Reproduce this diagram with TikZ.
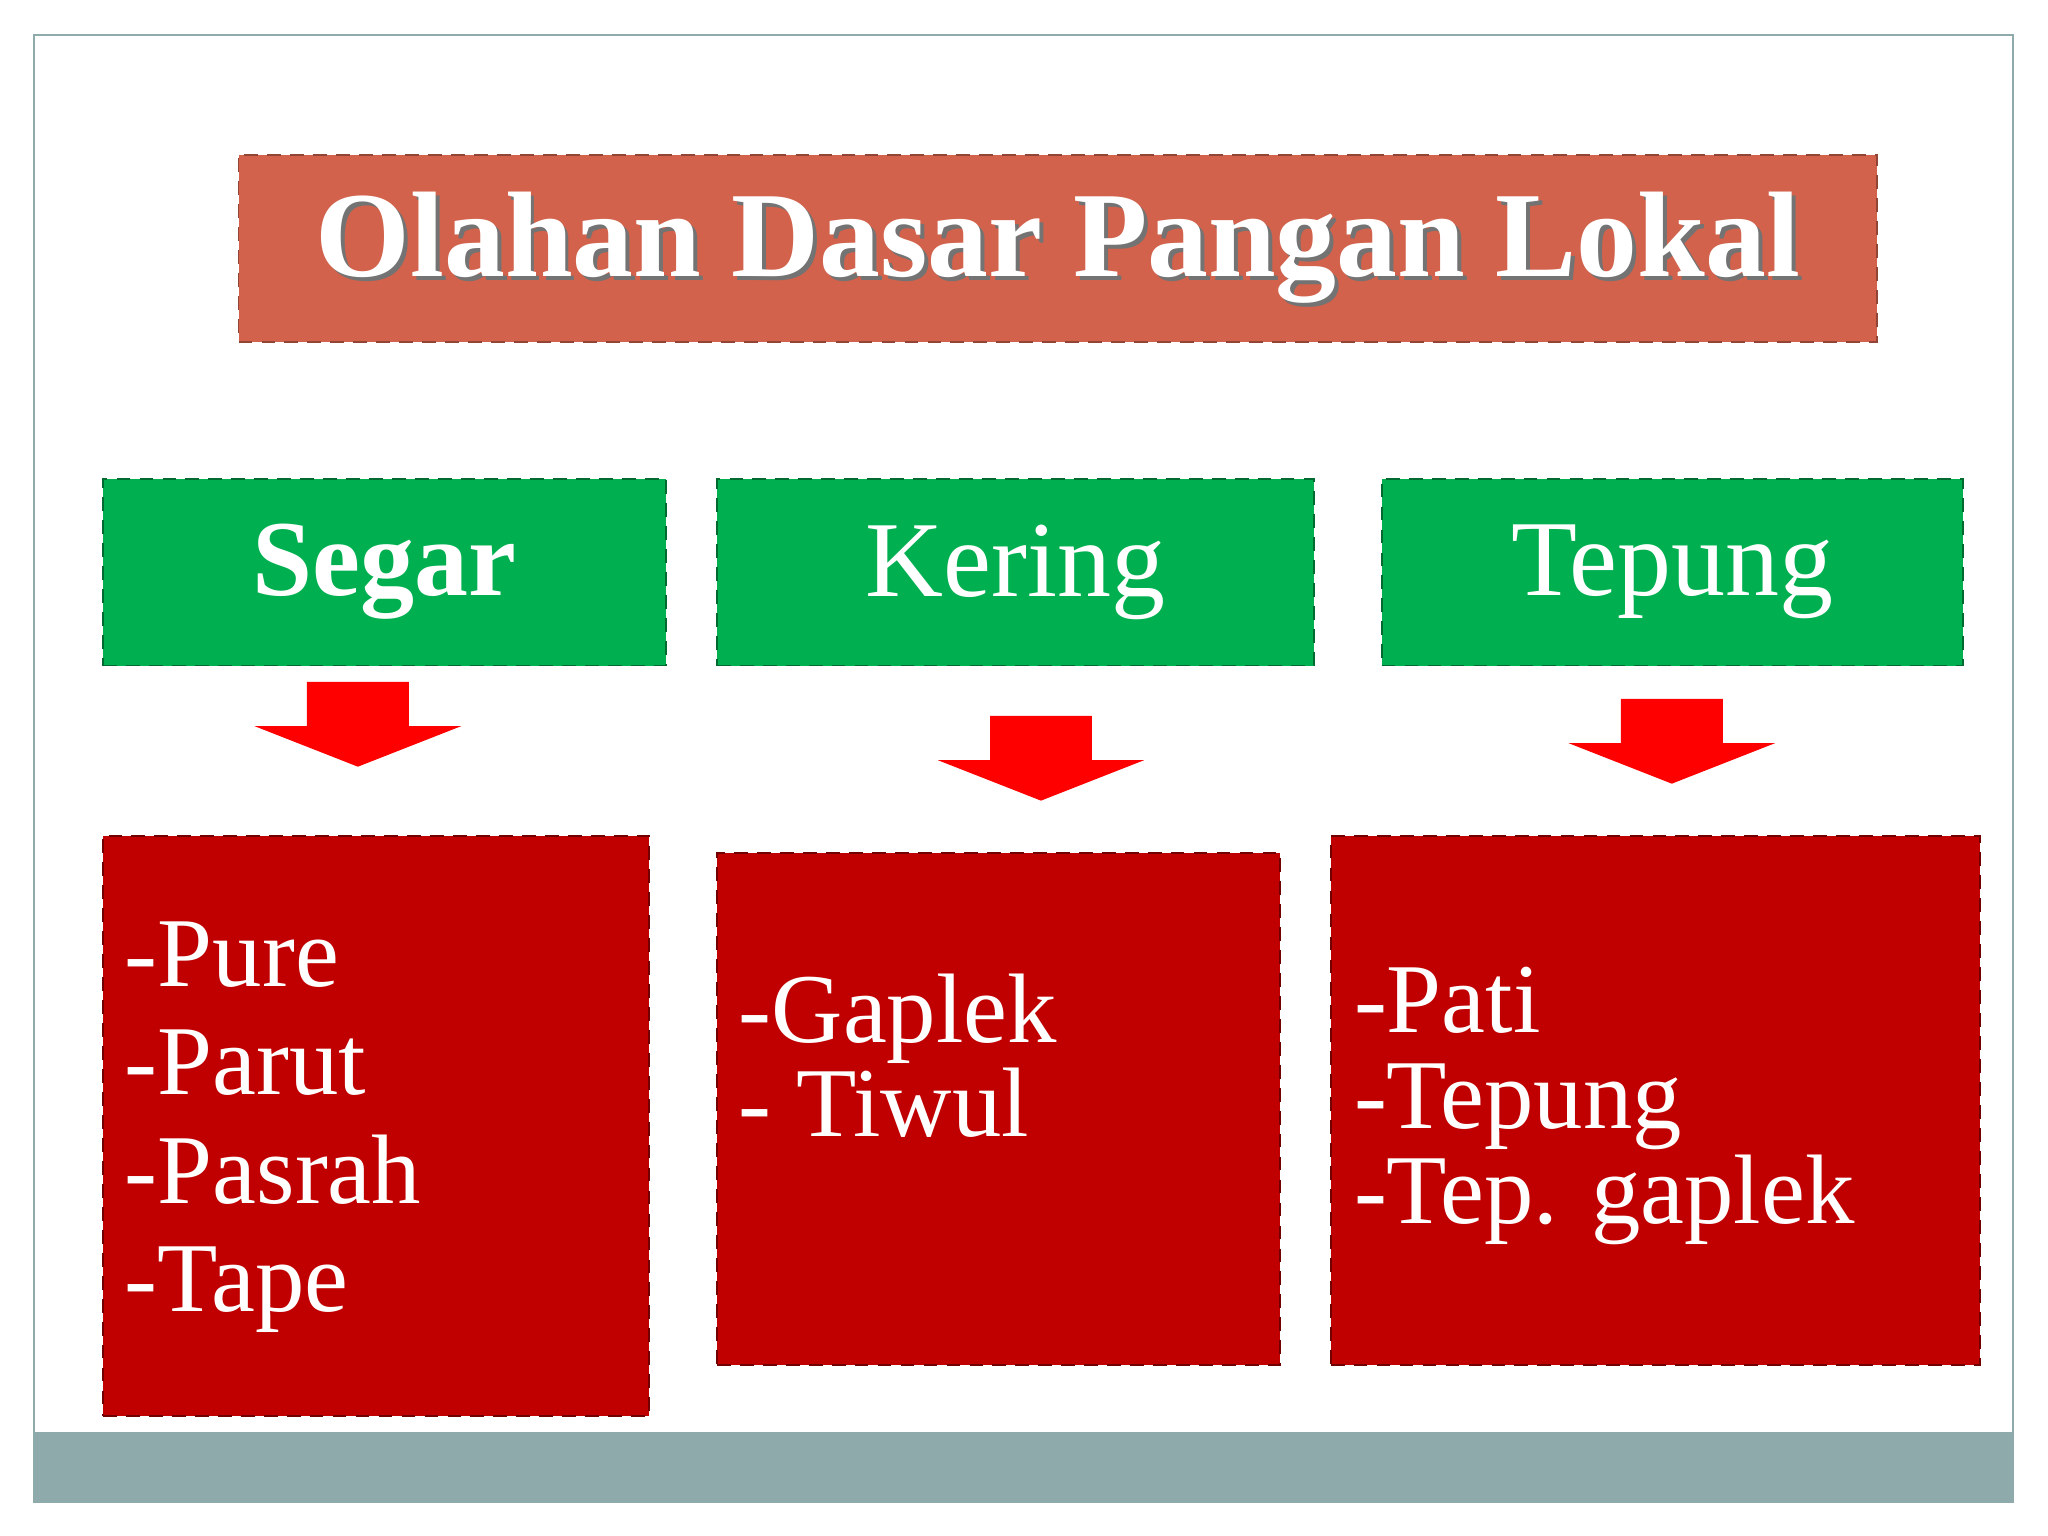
\documentclass[tikz,border=0pt]{standalone}
\usepackage{fontspec}
\setmainfont{Liberation Serif}
\usetikzlibrary{positioning}
\definecolor{titlered}{HTML}{D2624B}
\definecolor{boxgreen}{HTML}{00B050}
\definecolor{boxred}{HTML}{C00000}
\definecolor{barteal}{HTML}{8FAAAA}
\tikzset{
    x=0.01cm, y=-0.01cm,
    titlebox/.style={fill=titlered, draw=titlered!70!black, densely dashed, thin, minimum width=12.54cm, minimum height=1.43cm, inner sep=0pt},
    headbox/.style={fill=boxgreen, draw=boxgreen!60!black, densely dashed, thin, inner sep=0pt, text=white, font=\fontsize{23.5}{28}\selectfont, minimum height=1.43cm},
    listbox/.style={fill=boxred, draw=boxred!60!black, densely dashed, thin, inner sep=0pt},
    listtext/.style={text=white, anchor=north west, align=left, inner sep=0pt, font=\fontsize{21.5}{23.6}\selectfont},
    downarrow/.style={fill=red, draw=none},
}
\newcommand{\blockarrow}[3]{% centre x, top y, name
    \fill[downarrow] (#1-39,#2) -- (#1+39,#2) -- (#1+39,#2+34) -- (#1+79,#2+34)
        -- (#1,#2+65) -- (#1-79,#2+34) -- (#1-39,#2+34) -- cycle;
    \coordinate (#3) at (#1,#2);
}
\begin{document}
\begin{tikzpicture}
    \useasboundingbox (0,0) rectangle (1568,1176);
    \fill[white] (0,0) rectangle (1568,1176);
    % frame and bottom bar
    \draw[barteal, thin] (26,27) rectangle (1541,1150);
    \fill[barteal] (26,1096) rectangle (1541,1150);

    % title
    \node[titlebox] (title) at (810,190) {};
    \node[text=black!55, font=\fontsize{26.5}{30}\selectfont\bfseries] at (813,193) {Olahan Dasar Pangan Lokal};
    \node[text=white, font=\fontsize{26.5}{30}\selectfont\bfseries] (titletext) at (810,190) {Olahan Dasar Pangan Lokal};

    % category boxes
    \node[headbox, minimum width=4.31cm, font=\fontsize{23.5}{28}\selectfont\bfseries] (segar) at (294.5,438) {Segar};
    \node[headbox, minimum width=4.57cm] (kering) at (777.5,438) {Kering};
    \node[headbox, minimum width=4.45cm] (tepung) at (1280.5,438) {Tepung};

    % arrows
    \blockarrow{274}{522}{arrowsegar}
    \blockarrow{797}{548}{arrowkering}
    \blockarrow{1280}{535}{arrowtepung}

    % lists
    \node[listbox, minimum width=4.18cm, minimum height=4.44cm] (listsegar) at (288,862) {};
    \node[listbox, minimum width=4.31cm, minimum height=3.92cm] (listkering) at (764.5,849) {};
    \node[listbox, minimum width=4.97cm, minimum height=4.05cm] (listtepung) at (1267.5,842.5) {};

    \node[listtext] (itemssegar) at (95,705) {-Pure\\-Parut\\-Pasrah\\-Tape};
    \node[listtext, font=\fontsize{21.5}{20.5}\selectfont] (itemskering) at (565,745) {-Gaplek\\- Tiwul};
    \node[listtext, font=\fontsize{21.5}{20.8}\selectfont] (itemstepung) at (1036,740) {-Pati\\-Tepung\\-Tep. gaplek};
\end{tikzpicture}
\end{document}
